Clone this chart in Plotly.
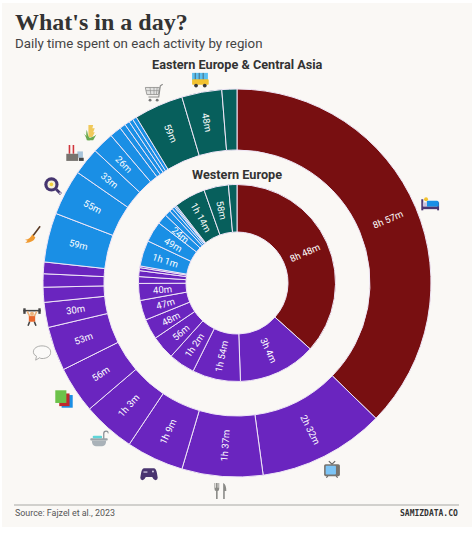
import base64
import math
import plotly.graph_objects as go

W, H = 474, 533
CX, CY = 237, 283
BG = "#faf8f5"
RED, PURPLE, BLUE, TEAL = "#780f11", "#6a25bf", "#1a8fe5", "#075f5c"

# minutes per day, clockwise from the top
east_sleep = [537]
east_personal = [152, 97, 69, 63, 56, 53, 30, 18, 16, 14]
east_work = [59, 55, 33, 26, 14, 7, 6, 5, 5]
east_other = [59, 48, 18]

west_sleep = [528]
west_personal = [184, 114, 62, 56, 48, 47, 40, 16, 14, 7, 4]
west_work = [61, 49, 24, 14, 8, 6, 3, 3]
west_other = [74, 58, 20]


def label(m):
    # very thin slices have no label
    if m < 24:
        return ""
    if m < 60:
        return "{}m".format(m)
    return "{}h {}m".format(m // 60, m % 60)


def px_x(x):
    return x / W


def px_y(y):
    return 1 - y / H


fig = go.Figure()


def ring(groups, radius, hole):
    vals, cols = [], []
    for g, c in zip(groups, [RED, PURPLE, BLUE, TEAL]):
        vals += g
        cols += [c] * len(g)
    fig.add_trace(go.Pie(
        values=vals,
        textinfo="none",
        marker=dict(colors=cols, line=dict(color="#efe6f7", width=1)),
        sort=False,
        direction="clockwise",
        rotation=0,
        hole=hole,
        hoverinfo="skip",
        showlegend=False,
        domain=dict(
            x=[px_x(CX - radius), px_x(CX + radius)],
            y=[px_y(CY + radius), px_y(CY - radius)],
        ),
    ))
    # labels sit mid ring and read along the radius
    total = sum(vals)
    mid_r = radius * (1 + hole) / 2
    done = 0
    for v in vals:
        theta = (done + v / 2) / total * 360
        done += v
        if not label(v):
            continue
        rad = math.radians(theta)
        fig.add_annotation(
            x=px_x(CX + mid_r * math.sin(rad)), y=px_y(CY - mid_r * math.cos(rad)),
            xref="paper", yref="paper", text=label(v), showarrow=False,
            xanchor="center", yanchor="middle",
            textangle=theta - 90 if theta < 180 else theta - 270,
            font=dict(family="Roboto", size=9.5, color="white"),
        )


ring([east_sleep, east_personal, east_work, east_other], 194, 133 / 194)
ring([west_sleep, west_personal, west_work, west_other], 98.5, 51 / 98.5)

# small hand drawn activity icons, 24x24 box
icons = {
    "bed": (430, 204, '<rect x="1" y="6" width="2.5" height="14" fill="#4a3570"/><rect x="21" y="10" width="2.5" height="10" fill="#4a3570"/><rect x="2" y="15" width="20" height="3.5" fill="#4a3570"/><path d="M8 8h13q2 0 2 2v5H8z" fill="#1a8fe5"/><rect x="3" y="10" width="5" height="5" fill="#c9c2dd"/><circle cx="7" cy="6" r="2.5" fill="#f2c230"/>'),
    "tv": (332, 469, '<path d="M8 2l4 4 4-4M7 20l-2 3M17 20l2 3" stroke="#666" stroke-width="1.5" fill="none"/><rect x="2" y="6" width="20" height="15" rx="2" fill="#77746f"/><rect x="4" y="8" width="13" height="11" rx="1" fill="#7cc4f5"/>'),
    "food": (220, 491, '<path d="M5 2v7q0 3 2 3v10h2V12q2 0 2-3V2h-1v6H9V2H7v6H6V2z" fill="#8a8a86"/><path d="M16 2q4 2 4 10h-2v10h-2z" fill="#8a8a86"/>'),
    "game": (149, 473, '<path d="M6 6h12q3 0 4 6l1 6q0 3-3 3-2 0-4-4H8q-2 4-4 4-3 0-3-3l1-6q1-6 4-6z" fill="#4a3570"/><circle cx="17" cy="10" r="1.3" fill="#cfc6e0"/><rect x="5" y="10" width="5" height="1.6" fill="#cfc6e0"/>'),
    "bath": (99, 439, '<path d="M18 12V5q0-3 3-3t3 3" stroke="#8a8f94" stroke-width="1.6" fill="none"/><rect x="1" y="11" width="22" height="3" rx="1" fill="#9ba3a8"/><path d="M3 14h18q0 7-5 7H8q-5 0-5-7z" fill="#a9b2b8"/><rect x="4" y="8" width="12" height="3" rx="1.5" fill="#5fd5d8"/>'),
    "books": (64, 399, '<rect x="9" y="7" width="14" height="16" fill="#1a8fe5"/><rect x="6" y="5" width="13" height="16" fill="#c0272d"/><rect x="1" y="1" width="14" height="16" fill="#6cc24a"/>'),
    "speech": (42, 353, '<path d="M12 3c6 0 11 3 11 8s-5 8-11 8q-2 0-3-1l-5 3 1-5q-4-2-4-5c0-5 5-8 11-8z" fill="#fbfaf8" stroke="#a9a9a6" stroke-width="1.2"/>'),
    "lift": (32, 317, '<rect x="1" y="3" width="22" height="2" fill="#444"/><rect x="1" y="1" width="3" height="7" fill="#444"/><rect x="20" y="1" width="3" height="7" fill="#444"/><circle cx="12" cy="8" r="2.5" fill="#eeb27c"/><path d="M6 5l3 6h6l3-6" stroke="#eeb27c" stroke-width="2" fill="none"/><rect x="8" y="11" width="8" height="7" fill="#e8662c"/><path d="M9 18l-2 5M15 18l2 5" stroke="#444" stroke-width="2"/>'),
    "broom": (33, 235, '<path d="M21 1L12 13" stroke="#5b3a22" stroke-width="2"/><path d="M11 11l4 4q-2 6-13 7 2-1 3-3-2 0-3-1 7-1 9-7z" fill="#f09a30"/>'),
    "pan": (53, 186, '<circle cx="10" cy="10" r="9" fill="#45356f"/><circle cx="10" cy="10" r="5" fill="#f5f0d8"/><circle cx="10" cy="10" r="2.3" fill="#f2cf3a"/><path d="M16 16l6 6" stroke="#45356f" stroke-width="3.5"/><circle cx="21" cy="21" r="1" fill="#fff"/>'),
    "factory": (75, 153, '<path d="M4 2h2v11H4zM9 2h2v11H9z" fill="#d0363c"/><rect x="15" y="10" width="7" height="8" fill="#a8c4da"/><rect x="1" y="13" width="15" height="9" fill="#77746f"/><rect x="17" y="18" width="6" height="4" fill="#444"/>'),
    "corn": (90, 133, '<path d="M10 2h6l-1 4h3l-2 5h2l-3 6h-5z" fill="#f0c95a"/><path d="M3 12q3 2 5 9h8q2-3 4-7-2 2-5 3l-3 1q-4-1-9-6z" fill="#6aa84f"/><path d="M8 8q-2 6 1 13h3q-3-6-4-13z" fill="#6aa84f"/>'),
    "cart": (154, 93, '<path d="M23 1l-3 2-2 14H5" stroke="#8a8a88" stroke-width="1.4" fill="none"/><path d="M1 5h18l-1.5 9H3z" fill="#e2e2e0" stroke="#8a8a88"/><path d="M7 5l1 9M12 5v9M16 5l-1 9M2 9h16" stroke="#8a8a88" stroke-width=".8"/><circle cx="7" cy="21" r="1.8" fill="#777"/><circle cx="16" cy="21" r="1.8" fill="#777"/>'),
    "truck": (200, 80, '<rect x="2" y="3" width="20" height="9" fill="#5cc0f0"/><path d="M6 3v9M11 3v9M16 3v9" stroke="#3a3a3a" stroke-width=".8"/><rect x="2" y="11" width="21" height="7" rx="1" fill="#f2c230"/><circle cx="7" cy="19" r="2.4" fill="#3a3a3a"/><circle cx="18" cy="19" r="2.4" fill="#3a3a3a"/>'),
}

images = []
for name, (ix, iy, body) in icons.items():
    svg = '<svg xmlns="http://www.w3.org/2000/svg" viewBox="0 0 24 24">{}</svg>'.format(body)
    src = "data:image/svg+xml;base64," + base64.b64encode(svg.encode()).decode()
    images.append(dict(
        source=src, xref="paper", yref="paper", x=px_x(ix), y=px_y(iy),
        sizex=19 / W, sizey=19 / H, xanchor="center", yanchor="middle", layer="above",
    ))


def note(x, y, text, size, color="#333333", family="Roboto", anchor="left"):
    fig.add_annotation(
        x=px_x(x), y=px_y(y), xref="paper", yref="paper", text=text, showarrow=False,
        xanchor=anchor, yanchor="middle", font=dict(family=family, size=size, color=color),
    )


note(13, 22, "<b>What's in a day?</b>", 24, family="Liberation Serif")
note(13, 43, "Daily time spent on each activity by region", 13.3, color="#444444")
note(237, 64, "<b>Eastern Europe &amp; Central Asia</b>", 12.7, anchor="center")
note(237, 174, "<b>Western Europe</b>", 12.7, anchor="center")
note(13, 513, "Source: Fajzel et al., 2023", 8.9, color="#555555")
note(460, 513, "<b>SAMIZDATA.CO</b>", 8, family="DejaVu Sans Mono", anchor="right")

fig.update_layout(
    width=W, height=H, margin=dict(l=0, r=0, t=0, b=0),
    paper_bgcolor="white", images=images,
    shapes=[
        dict(type="rect", xref="paper", yref="paper", layer="below", line_width=0,
             fillcolor=BG, x0=px_x(2), x1=px_x(472), y0=px_y(527), y1=px_y(3)),
        dict(type="line", xref="paper", yref="paper", line=dict(color="#a8a8a4", width=1),
             x0=px_x(14), x1=px_x(459), y0=px_y(505), y1=px_y(505)),
    ],
)

fig.write_html("out.html", config={"displayModeBar": False},
               post_script="document.body.style.margin='0';")
